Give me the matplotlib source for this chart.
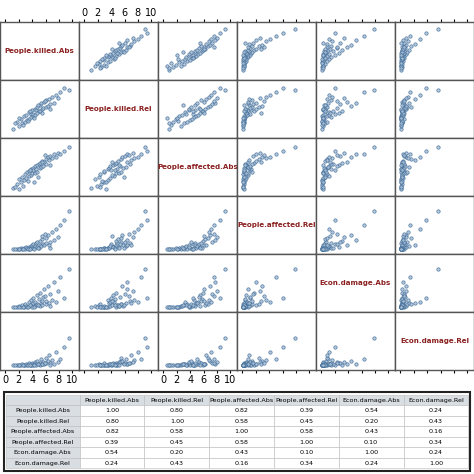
import numpy as np
import matplotlib.pyplot as plt

names = ['People.killed.Abs', 'People.killed.Rel', 'People.affected.Abs',
         'People.affected.Rel', 'Econ.damage.Abs', 'Econ.damage.Rel']

# estimated observations (hand-read, approximate)
killed_abs = [1.2, 1.8, 2.0, 2.3, 2.5, 2.8, 3.0, 3.1, 3.3, 3.5, 3.6, 3.8, 3.9, 4.0, 4.1, 4.2, 4.4, 4.5, 4.6, 4.7,
              4.8, 5.0, 5.1, 5.2, 5.3, 5.5, 5.6, 5.8, 6.0, 6.1, 6.3, 6.5, 6.7, 7.0, 7.2, 7.5, 7.8, 8.2, 8.8, 9.5,
              2.1, 3.4, 4.9, 5.4, 6.6, 3.7, 4.3, 5.9, 2.6, 1.5]
killed_rel = [1.0, 2.5, 1.6, 3.0, 2.2, 3.6, 2.4, 3.8, 2.9, 4.4, 3.0, 4.1, 3.5, 4.8, 3.7, 4.0, 5.1, 3.9, 4.9, 4.3,
              5.5, 4.6, 5.8, 4.7, 6.2, 5.0, 5.3, 6.4, 5.4, 6.8, 5.6, 7.0, 6.1, 7.4, 6.3, 8.0, 7.2, 8.5, 9.3, 9.0,
              3.2, 2.6, 5.9, 4.2, 5.1, 4.6, 3.2, 6.6, 1.9, 2.3]
affected_abs = [0.8, 1.5, 2.6, 1.9, 3.1, 2.4, 3.6, 2.8, 4.0, 3.2, 4.3, 3.4, 4.6, 3.9, 4.9, 4.4, 3.8, 5.2, 4.7, 5.5,
                4.1, 5.7, 4.8, 5.9, 5.0, 6.2, 5.3, 6.0, 6.6, 5.6, 7.0, 6.4, 7.3, 6.8, 7.7, 7.1, 8.0, 7.6, 8.4, 9.2,
                0.6, 2.2, 3.0, 6.1, 5.4, 4.5, 2.0, 7.5, 1.2, 0.9]
affected_rel = [0.1, 0.2, 0.1, 0.3, 0.2, 0.4, 0.1, 0.5, 0.3, 0.6, 0.2, 0.8, 0.4, 0.9, 0.3, 1.1, 0.5, 0.7, 1.3, 0.6,
                1.5, 0.4, 1.0, 1.8, 0.8, 2.1, 1.2, 0.9, 2.5, 1.4, 3.0, 1.0, 1.6, 3.6, 2.0, 4.2, 2.6, 5.0, 6.1, 7.8,
                0.2, 0.1, 0.3, 2.8, 0.4, 0.2, 0.1, 3.2, 0.1, 0.1]
econ_abs = [0.1, 0.1, 0.3, 0.2, 0.5, 0.1, 0.8, 0.3, 0.2, 1.1, 0.4, 0.6, 1.5, 0.2, 0.9, 2.0, 0.3, 1.2, 0.5, 2.6,
            0.7, 1.8, 0.4, 3.1, 1.0, 0.6, 2.3, 3.8, 0.8, 1.4, 4.5, 0.9, 2.8, 1.6, 5.2, 1.1, 3.4, 6.3, 2.0, 7.9,
            0.2, 0.1, 0.6, 1.3, 0.3, 0.5, 0.2, 2.4, 0.1, 0.2]
econ_rel = [0.1, 0.2, 0.1, 0.1, 0.3, 0.1, 0.2, 0.4, 0.1, 0.3, 0.5, 0.2, 0.1, 0.6, 0.3, 0.2, 0.8, 0.4, 0.1, 0.5,
            1.0, 0.3, 0.6, 0.2, 1.3, 0.4, 0.7, 0.3, 1.6, 0.5, 0.9, 2.2, 0.6, 1.1, 0.4, 2.9, 0.8, 1.4, 3.8, 5.6,
            0.1, 0.2, 0.3, 0.4, 0.1, 0.2, 0.1, 0.6, 0.1, 0.1]
data = [killed_abs, killed_rel, affected_abs, affected_rel, econ_abs, econ_rel]

corr = [[1.00, 0.80, 0.82, 0.39, 0.54, 0.24],
        [0.80, 1.00, 0.58, 0.45, 0.20, 0.43],
        [0.82, 0.58, 1.00, 0.58, 0.43, 0.16],
        [0.39, 0.45, 0.58, 1.00, 0.10, 0.34],
        [0.54, 0.20, 0.43, 0.10, 1.00, 0.24],
        [0.24, 0.43, 0.16, 0.34, 0.24, 1.00]]

fig = plt.figure(figsize=(4.74, 4.74), dpi=100)
n = 6
left, right, top, bottom = 0.0, 1.0, 0.954, 0.22
w = (right - left) / n
h = (top - bottom) / n
ticks = [0, 2, 4, 6, 8, 10]

for i in range(n):
    for j in range(n):
        ax = fig.add_axes([left + j * w, top - (i + 1) * h, w, h])
        ax.set_xlim(-0.8, 11)
        ax.set_ylim(-0.8, 11)
        for s in ax.spines.values():
            s.set_color('#555555')
            s.set_linewidth(1.0)
        ax.set_xticks([])
        ax.set_yticks([])
        if i == j:
            ax.text(0.5, 0.5, names[i], ha='center', va='center', transform=ax.transAxes,
                    color='#8b2020', fontsize=5.1, fontweight='bold')
        else:
            ax.scatter(data[j], data[i], s=6, facecolor='#a9bfd6', edgecolor='#3d6a96',
                       linewidth=0.5, alpha=0.85)
        if i == 0:
            ax.xaxis.set_ticks_position('top')
            ax.set_xticks(ticks)
            ax.tick_params(axis='x', length=2.5, labelsize=7, pad=0, labeltop=(j == 1),
                           labelbottom=False, top=True, bottom=False)
        if i == n - 1:
            ax.set_xticks(ticks)
            ax.tick_params(axis='x', length=2.5, labelsize=7, pad=1, labelbottom=(j in (0, 2)))

# correlation table
tax = fig.add_axes([0.012, 0.012, 0.976, 0.155])
tax.axis('off')
header = [''] + names
cells = [[names[r]] + [f'{v:.2f}' for v in row] for r, row in enumerate(corr)]
tbl = tax.table(cellText=cells, colLabels=header, loc='center', cellLoc='center',
                colWidths=[0.16] + [0.14] * 6, bbox=[0, 0, 1, 1])
tbl.auto_set_font_size(False)
tbl.set_fontsize(4.6)
for (r, c), cell in tbl.get_celld().items():
    cell.set_edgecolor('#bbbbbb')
    cell.set_linewidth(0.4)
    cell.PAD = 0.01
    if r == 0 or c == 0:
        cell.set_facecolor('#d9dee3')
fig.patches.append(plt.Rectangle((0.008, 0.006), 0.984, 0.166, transform=fig.transFigure,
                                 fill=False, edgecolor='#222222', linewidth=1.5))

fig.savefig('out.png', dpi=100)
